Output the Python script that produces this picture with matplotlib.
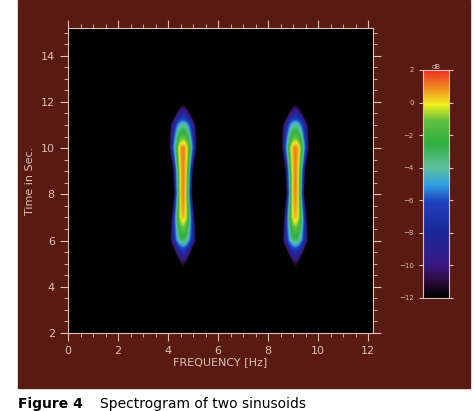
import numpy as np
import matplotlib
matplotlib.use("Agg")
import matplotlib.pyplot as plt
from matplotlib.colors import LinearSegmentedColormap

# data
tone_freqs = [4.6, 9.1]          # Hz
time_knots = [4.8, 5.3, 6.0, 7.0, 8.0, 9.0, 10.0, 11.0, 11.6, 11.9]
peak_db    = [-12, -9.0, -3.0, 0.5, 1.0, 1.0, 1.0, -4.0, -9.5, -12]
half_width = [0.15, 0.3, 0.34, 0.26, 0.2, 0.22, 0.3, 0.36, 0.3, 0.2]
xticks = [0, 2, 4, 6, 8, 10, 12]
yticks = [2, 4, 6, 8, 10, 12, 14]
cbar_ticks = [2, 0, -2, -4, -6, -8, -10, -12]

bg = "#581a12"
fg = "#e0c0b8"

f = np.linspace(0, 12.2, 600)
t = np.linspace(2, 15.2, 500)
pk = np.interp(t, time_knots, peak_db, left=-40, right=-40)
hw = np.interp(t, time_knots, half_width)
Z = np.full((t.size, f.size), -40.0)
for f0 in tone_freqs:
    d = (f[None, :] - f0) / hw[:, None]
    Z = np.maximum(Z, pk[:, None] - 4.0 * d**2)

cmap = LinearSegmentedColormap.from_list("spec", [
    (0.0, "#000000"), (0.07, "#2a0a3a"), (0.15, "#3a1a8a"), (0.3, "#1a2a9a"),
    (0.42, "#2040c0"), (0.5, "#30a0e0"), (0.57, "#60c0a0"), (0.68, "#30b040"),
    (0.78, "#60c040"), (0.85, "#f0f020"), (0.92, "#f09020"), (1.0, "#f03020")])

fig = plt.figure(figsize=(4.74, 4.11), dpi=100)
fig.patch.set_facecolor("white")
fig.add_artist(plt.Rectangle((18/474, 1-388/411), 452/474, 388/411,
                             transform=fig.transFigure, color=bg, zorder=-1))

ax = fig.add_axes([68/474, 1-333/411, 305/474, 305/411])
ax.imshow(Z, origin="lower", extent=[0, 12.2, 2, 15.2], aspect="auto",
          cmap=cmap, vmin=-12, vmax=2, interpolation="bilinear")
ax.set_xlim(0, 12.2)
ax.set_ylim(2, 15.2)
ax.set_xticks(xticks)
ax.set_yticks(yticks)
ax.set_xticks(np.arange(0, 12.2, 0.5), minor=True)
ax.set_yticks(np.arange(2, 15.2, 0.5), minor=True)
for s in ax.spines.values():
    s.set_color(fg)
ax.tick_params(colors=fg, which="both", direction="out", labelsize=8,
               top=True, right=True)
ax.tick_params(which="major", length=6)
ax.tick_params(which="minor", length=3)
ax.set_xlabel("FREQUENCY [Hz]", color=fg, fontsize=8, labelpad=1)
ax.set_ylabel("Time in Sec.", color=fg, fontsize=8)

cax = fig.add_axes([423/474, 1-298/411, 26/474, 228/411])
grad = np.linspace(-12, 2, 200)[:, None]
cax.imshow(grad, origin="lower", extent=[0, 1, -12, 2], aspect="auto",
           cmap=cmap, vmin=-12, vmax=2)
cax.set_xticks([])
cax.set_yticks(cbar_ticks)
cax.tick_params(colors=fg, labelsize=5, length=3, right=True)
for s in cax.spines.values():
    s.set_color(fg)
cax.set_title("dB", color=fg, fontsize=5, pad=1)

fig.text(18/474, 1-404/411, "Figure 4", fontsize=10, fontweight="bold",
         va="center", color="black")
fig.text(100/474, 1-404/411, "Spectrogram of two sinusoids", fontsize=10,
         va="center", color="black")

fig.savefig("out.png", dpi=100, facecolor=fig.get_facecolor())
